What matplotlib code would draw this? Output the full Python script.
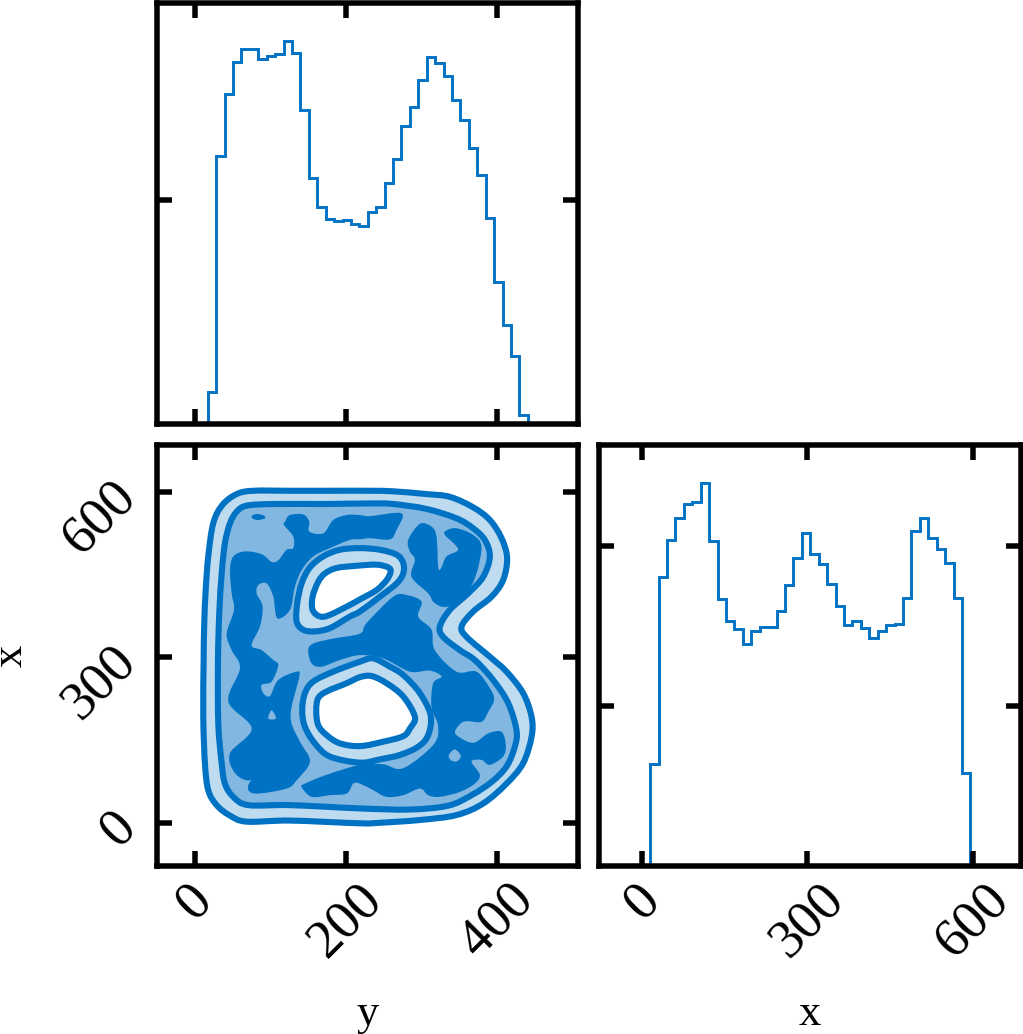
import numpy as np
import matplotlib
matplotlib.use('Agg')
import matplotlib.pyplot as plt
from matplotlib.path import Path
from matplotlib.patches import PathPatch
from matplotlib.transforms import ScaledTranslation

plt.rcParams['font.family'] = ['Liberation Serif', 'DejaVu Serif']

# marginal histograms (density)
y_range = (17, 441)
x_range = (14, 596)
y_hist = [0.000286, 0.002396, 0.002946, 0.003235, 0.003348, 0.003354, 0.003256, 0.003283,
          0.003301, 0.003422, 0.003310, 0.002804, 0.002194, 0.001940, 0.001830, 0.001817,
          0.001821, 0.001783, 0.001768, 0.001896, 0.001940, 0.002154, 0.002363, 0.002658,
          0.002828, 0.003071, 0.003274, 0.003229, 0.003107, 0.002893, 0.002712, 0.002467,
          0.002223, 0.001837, 0.001265, 0.000887, 0.000604, 0.000080]
x_hist = [0.000638, 0.001804, 0.002038, 0.002173, 0.002264, 0.002273, 0.002396, 0.002033,
          0.001667, 0.001529, 0.001479, 0.001389, 0.001469, 0.001494, 0.001496, 0.001596,
          0.001754, 0.001927, 0.002083, 0.001948, 0.001886, 0.001764, 0.001627, 0.001506,
          0.001529, 0.001489, 0.001425, 0.001467, 0.001508, 0.001514, 0.001677, 0.002092,
          0.002177, 0.002050, 0.001979, 0.001894, 0.001675, 0.000579]

# contour outlines, (y, x) in data units
level1_outer = [(11.5, 295), (12.3, 362), (14.2, 422), (17.6, 483), (24.2, 543), (36.2, 576), (55.2, 596),
                (77.2, 602), (125.8, 602), (178.8, 602), (231.8, 602), (262.7, 601), (306.9, 596), (337.7, 591),
                (368.6, 572), (390.7, 549), (406.2, 516), (413.6, 480), (408.3, 440), (393, 410), (368.6, 383),
                (353.3, 356), (359.9, 337), (390.7, 301), (412.8, 274), (434.8, 235), (446, 192), (446, 156),
                (434.8, 108), (412.8, 71), (381.9, 35), (346.6, 14), (298, 5), (245, 0), (218.5, -1), (125.8, 4),
                (68.5, 2), (46.4, 13), (28.7, 32), (17.6, 59), (13.2, 108), (11, 192)]
level2_outer = [(30.5, 295), (32.2, 380), (35.4, 452), (39.7, 507), (46.4, 543), (55.2, 564), (68.5, 575),
                (103.7, 578), (169.9, 578), (231.8, 579), (262.7, 578), (306.9, 569), (346.6, 552), (368.6, 534),
                (384, 513), (390.7, 483), (381.9, 446), (362, 416), (337.7, 386), (324.5, 356), (328.9, 337),
                (351, 313), (370.9, 295), (395, 259), (415, 217), (426, 168), (423.8, 138), (412.8, 102),
                (393, 74), (366.5, 50), (335.5, 31), (284.8, 24), (218.5, 26), (125.8, 32), (70.6, 32),
                (50.7, 47), (39.7, 71), (35.4, 108), (30.9, 180)]
level1_upper_hole = [(165.6, 374), (155.9, 386), (155.9, 410), (163.3, 437), (172.2, 452), (187.7, 462),
                     (214.2, 466), (240.7, 468), (256, 463), (259.2, 455), (253.9, 440), (240.7, 422),
                     (218.5, 405), (205.3, 395), (178.8, 377)]
level2_upper_hole = [(218.5, 498), (245, 495), (267.2, 486), (275.9, 471), (275.9, 452), (267.2, 434), (245, 410),
                     (218.5, 383), (205.3, 374), (178.8, 353), (158.9, 347), (143.4, 350), (134.7, 365),
                     (135.5, 398), (141.3, 434), (152.3, 463), (169.9, 483), (192, 495)]
level1_lower_hole = [(160.7, 204), (163.3, 226), (174.4, 238), (200.9, 253), (218.5, 264), (234, 266), (253.9, 253),
                     (275.9, 229), (291.4, 192), (284.8, 171), (275.9, 157), (249.4, 147), (218.5, 139), (192, 144),
                     (174.4, 159), (163.3, 177)]
level2_lower_hole = [(142.1, 204), (145.7, 235), (156.7, 256), (183.2, 274), (218.5, 292), (236.2, 298), (258.3, 283),
                     (275.9, 268), (298, 235), (312.2, 195), (309, 159), (295.8, 138), (271.5, 123), (245, 115),
                     (218.5, 109), (178.8, 120), (158.9, 144), (145.7, 174)]
dense_small = [(75.1, 556), (81.7, 560), (91.4, 557), (92.7, 552), (83.9, 549), (77.3, 551)]
dense_left = [(119.2, 546), (125.8, 558), (143.5, 559), (151.4, 546), (151.4, 528), (170, 525), (183.2, 549),
              (200.9, 558), (218.5, 558), (231.7, 556), (273.7, 561), (267, 531), (258.2, 514), (231.7, 516),
              (218.5, 514), (205.3, 513), (178.8, 498), (156.8, 483), (141.3, 458), (132.5, 428), (125.8, 386),
              (109, 371), (103.8, 410), (95, 434), (83.9, 431), (81.7, 416), (89.6, 392), (86.1, 356), (75.1, 322),
              (88.3, 313), (103.8, 295), (110.4, 286), (101.6, 256), (88.3, 250), (90.5, 235), (99.4, 230),
              (110.4, 259), (134.7, 274), (138.2, 265), (128, 210), (128, 180), (139.1, 147), (152.3, 111),
              (134.7, 77), (121.4, 62), (79.5, 53), (70.6, 68), (88.3, 102), (72.8, 77), (53, 90), (46.4, 126),
              (75.1, 171), (44.2, 220), (59.6, 280), (48.6, 313), (42, 343), (51.7, 386), (48.6, 416), (46.4, 458),
              (50.8, 483), (66.2, 492), (88.3, 487), (101.6, 473), (110.4, 476), (121.4, 495), (130.2, 498),
              (130.2, 519), (117.9, 540)]
dense_middle = [(150.1, 313), (154.5, 289), (167.8, 283), (192, 295), (218.5, 304), (249.4, 298), (284.7, 274),
                (311.2, 276), (326.7, 265), (315.6, 253), (313.4, 210), (322.3, 174), (315.6, 141), (275.9, 99),
                (249.4, 106), (218.5, 105), (174.4, 87), (145.7, 71), (141.3, 65), (154.5, 47), (178.8, 50),
                (200.9, 53), (209.7, 71), (218.5, 71), (236.2, 59), (253.8, 47), (275.9, 50), (298, 62), (309, 50),
                (324.5, 47), (351, 56), (370.8, 71), (377.4, 87), (366.4, 111), (379.6, 114), (390.7, 105),
                (408.3, 120), (411.9, 141), (406.1, 165), (388.5, 162), (368.6, 145), (346.5, 159), (346.5, 171),
                (357.6, 184), (379.6, 183), (388.5, 201), (396.4, 223), (390.7, 244), (373, 274), (346.5, 274),
                (317.8, 313), (313.4, 350), (295.8, 374), (300.2, 401), (280.3, 413), (262.7, 410), (227.3, 362),
                (218.5, 343), (183.2, 334), (156.8, 325)]
dense_right = [(282.5, 513), (298, 542), (313.4, 537), (320, 519), (322.3, 464), (325.8, 461), (333.3, 483),
               (348.7, 496), (331.1, 522), (333.3, 530), (346.5, 534), (368.6, 522), (379.6, 501), (373, 452),
               (362, 422), (339.9, 395), (326.7, 392), (315.6, 401), (309, 416), (286.9, 446), (291.4, 477),
               (284.7, 492)]
gap_left = [(97.1, 189), (107.3, 189), (101.6, 204)]
gap_middle = [(336.4, 123), (344.3, 133), (352.3, 121), (346.5, 111), (338.6, 114)]

blue = '#0072c4'
blue_mid = '#81b7e0'
blue_light = '#bfdbf0'


def smooth_path(points):
    # closed curve through the outline points
    p = np.array(points, dtype=float)
    n = len(p)
    verts = [p[0]]
    codes = [Path.MOVETO]
    for i in range(n):
        p0, p1, p2, p3 = p[i - 1], p[i], p[(i + 1) % n], p[(i + 2) % n]
        verts += [p1 + (p2 - p0) / 6, p2 - (p3 - p1) / 6, p2]
        codes += [Path.CURVE4] * 3
    return Path(verts, codes)


def add_outline(ax, points, face, edge='none', lw=0):
    ax.add_patch(PathPatch(smooth_path(points), facecolor=face, edgecolor=edge, linewidth=lw))


fig = plt.figure(figsize=(10.23, 10.34), dpi=100)
W, H = 1023.0, 1034.0


def panel(left, top, right, bottom):
    return fig.add_axes([left / W, (H - bottom) / H, (right - left) / W, (bottom - top) / H])


ax_top = panel(157, 2.5, 578, 424)
ax_main = panel(157, 445, 578, 866)
ax_right = panel(599, 445, 1020.5, 866)

# top histogram
ax_top.stairs(y_hist, np.linspace(y_range[0], y_range[1], len(y_hist) + 1), color=blue, linewidth=2.1)
ax_top.set_xlim(-50.3, 507.5)
ax_top.set_ylim(0, 0.003765)
ax_top.set_xticks([0, 200, 400])
ax_top.set_yticks([0.002])
ax_top.set_xticklabels([])
ax_top.set_yticklabels([])

# right histogram
ax_right.stairs(x_hist, np.linspace(x_range[0], x_range[1], len(x_hist) + 1), color=blue, linewidth=2.1)
ax_right.set_xlim(-78.8, 687)
ax_right.set_ylim(0, 0.002631)
ax_right.set_xticks([0, 300, 600])
ax_right.set_yticks([0.001, 0.002])
ax_right.set_yticklabels([])
ax_right.set_xlabel('x', fontsize=32)

# contours
line = 4.4
add_outline(ax_main, level1_outer, blue_light, blue, line)
add_outline(ax_main, level2_outer, blue_mid, blue, line)
add_outline(ax_main, dense_small, blue)
add_outline(ax_main, dense_left, blue)
add_outline(ax_main, dense_middle, blue)
add_outline(ax_main, dense_right, blue)
add_outline(ax_main, gap_left, blue_mid)
add_outline(ax_main, gap_middle, blue_mid)
add_outline(ax_main, level2_upper_hole, blue_light, blue, line)
add_outline(ax_main, level2_lower_hole, blue_light, blue, line)
add_outline(ax_main, level1_upper_hole, 'white', blue, line)
add_outline(ax_main, level1_lower_hole, 'white', blue, line)
ax_main.set_xlim(-50.3, 507.5)
ax_main.set_ylim(-78.4, 685)
ax_main.set_xticks([0, 200, 400])
ax_main.set_yticks([0, 300, 600])
ax_main.set_xlabel('y', fontsize=32)
ax_main.set_ylabel('x', fontsize=32)

for ax in [ax_top, ax_main, ax_right]:
    for s in ax.spines.values():
        s.set_linewidth(3.96)
        s.set_zorder(10)
    ax.tick_params(direction='in', length=10.8, width=3.96, top=True, right=True, labelsize=39)

for ax in [ax_main, ax_right]:
    ax.tick_params(axis='x', pad=6)
    for lab in ax.get_xticklabels():
        lab.set_rotation(45)
        lab.set_ha('center')
    ax.xaxis.set_label_coords(0.5, -0.303)

ax_main.tick_params(axis='y', pad=8)
for lab in ax_main.get_yticklabels():
    lab.set_rotation(45)
    lab.set_va('top')
    lab.set_transform(lab.get_transform() + ScaledTranslation(0, 21 / 100, fig.dpi_scale_trans))
ax_main.yaxis.set_label_coords(-0.3, 0.5)

fig.savefig('out.png', dpi=100)
